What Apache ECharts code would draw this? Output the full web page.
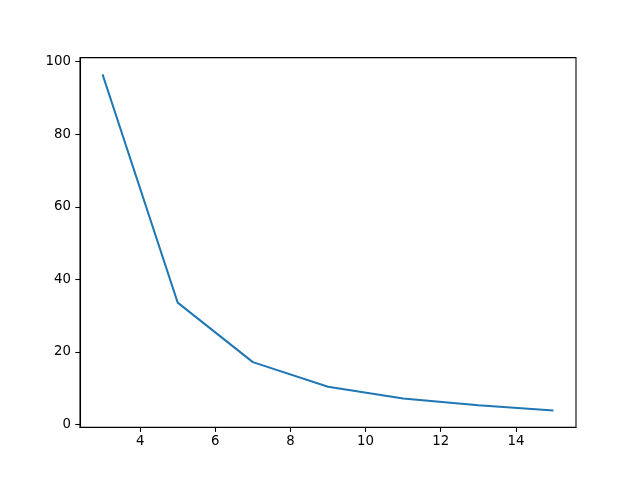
<!DOCTYPE html>
<html>
<head>
<meta charset="utf-8">
<script src="https://cdn.jsdelivr.net/npm/echarts@6/dist/echarts.min.js"></script>
<style>
html,body{margin:0;padding:0;background:#fff;}
#chart{width:640px;height:480px;}
</style>
</head>
<body>
<div id="chart"></div>
<script>
const xValues = [3, 5, 7, 9, 11, 13, 15];
const yValues = [96.5, 33.6, 17.2, 10.4, 7.2, 5.3, 3.9];
const xTicks = [4, 6, 8, 10, 12, 14];
const yTicks = [0, 20, 40, 60, 80, 100];

function padded(arr) {
  const lo = Math.min.apply(null, arr), hi = Math.max.apply(null, arr);
  const m = (hi - lo) * 0.05;
  return [lo - m, hi + m];
}
const xr = padded(xValues), yr = padded(yValues);

const chart = echarts.init(document.getElementById('chart'), null, {renderer: 'canvas'});
const font = {fontFamily: 'DejaVu Sans', fontSize: 13.3, color: '#000'};
chart.setOption({
  animation: false,
  grid: {left: 80, right: 64, top: 57.6, bottom: 52.8, containLabel: false, outerBoundsMode: 'none',
         show: true, borderColor: '#000', borderWidth: 1.07, backgroundColor: 'transparent'},
  xAxis: {
    type: 'value', min: xr[0], max: xr[1],
    axisLine: {show: true, onZero: false, lineStyle: {color: '#000', width: 1.07}},
    axisTick: {show: true, inside: false, length: 4.7, lineStyle: {color: '#000', width: 1.07}, customValues: xTicks},
    axisLabel: Object.assign({margin: 8, customValues: xTicks}, font),
    splitLine: {show: false}
  },
  yAxis: {
    type: 'value', min: yr[0], max: yr[1],
    axisLine: {show: true, onZero: false, lineStyle: {color: '#000', width: 1.07}},
    axisTick: {show: true, inside: false, length: 4.7, lineStyle: {color: '#000', width: 1.07}, customValues: yTicks},
    axisLabel: Object.assign({margin: 9, customValues: yTicks}, font),
    splitLine: {show: false}
  },
  series: [{
    type: 'line',
    data: xValues.map((x, i) => [x, yValues[i]]),
    showSymbol: false,
    symbol: 'none',
    lineStyle: {color: '#1f77b4', width: 2},
    itemStyle: {color: '#1f77b4'}
  }]
});
</script>
</body>
</html>
